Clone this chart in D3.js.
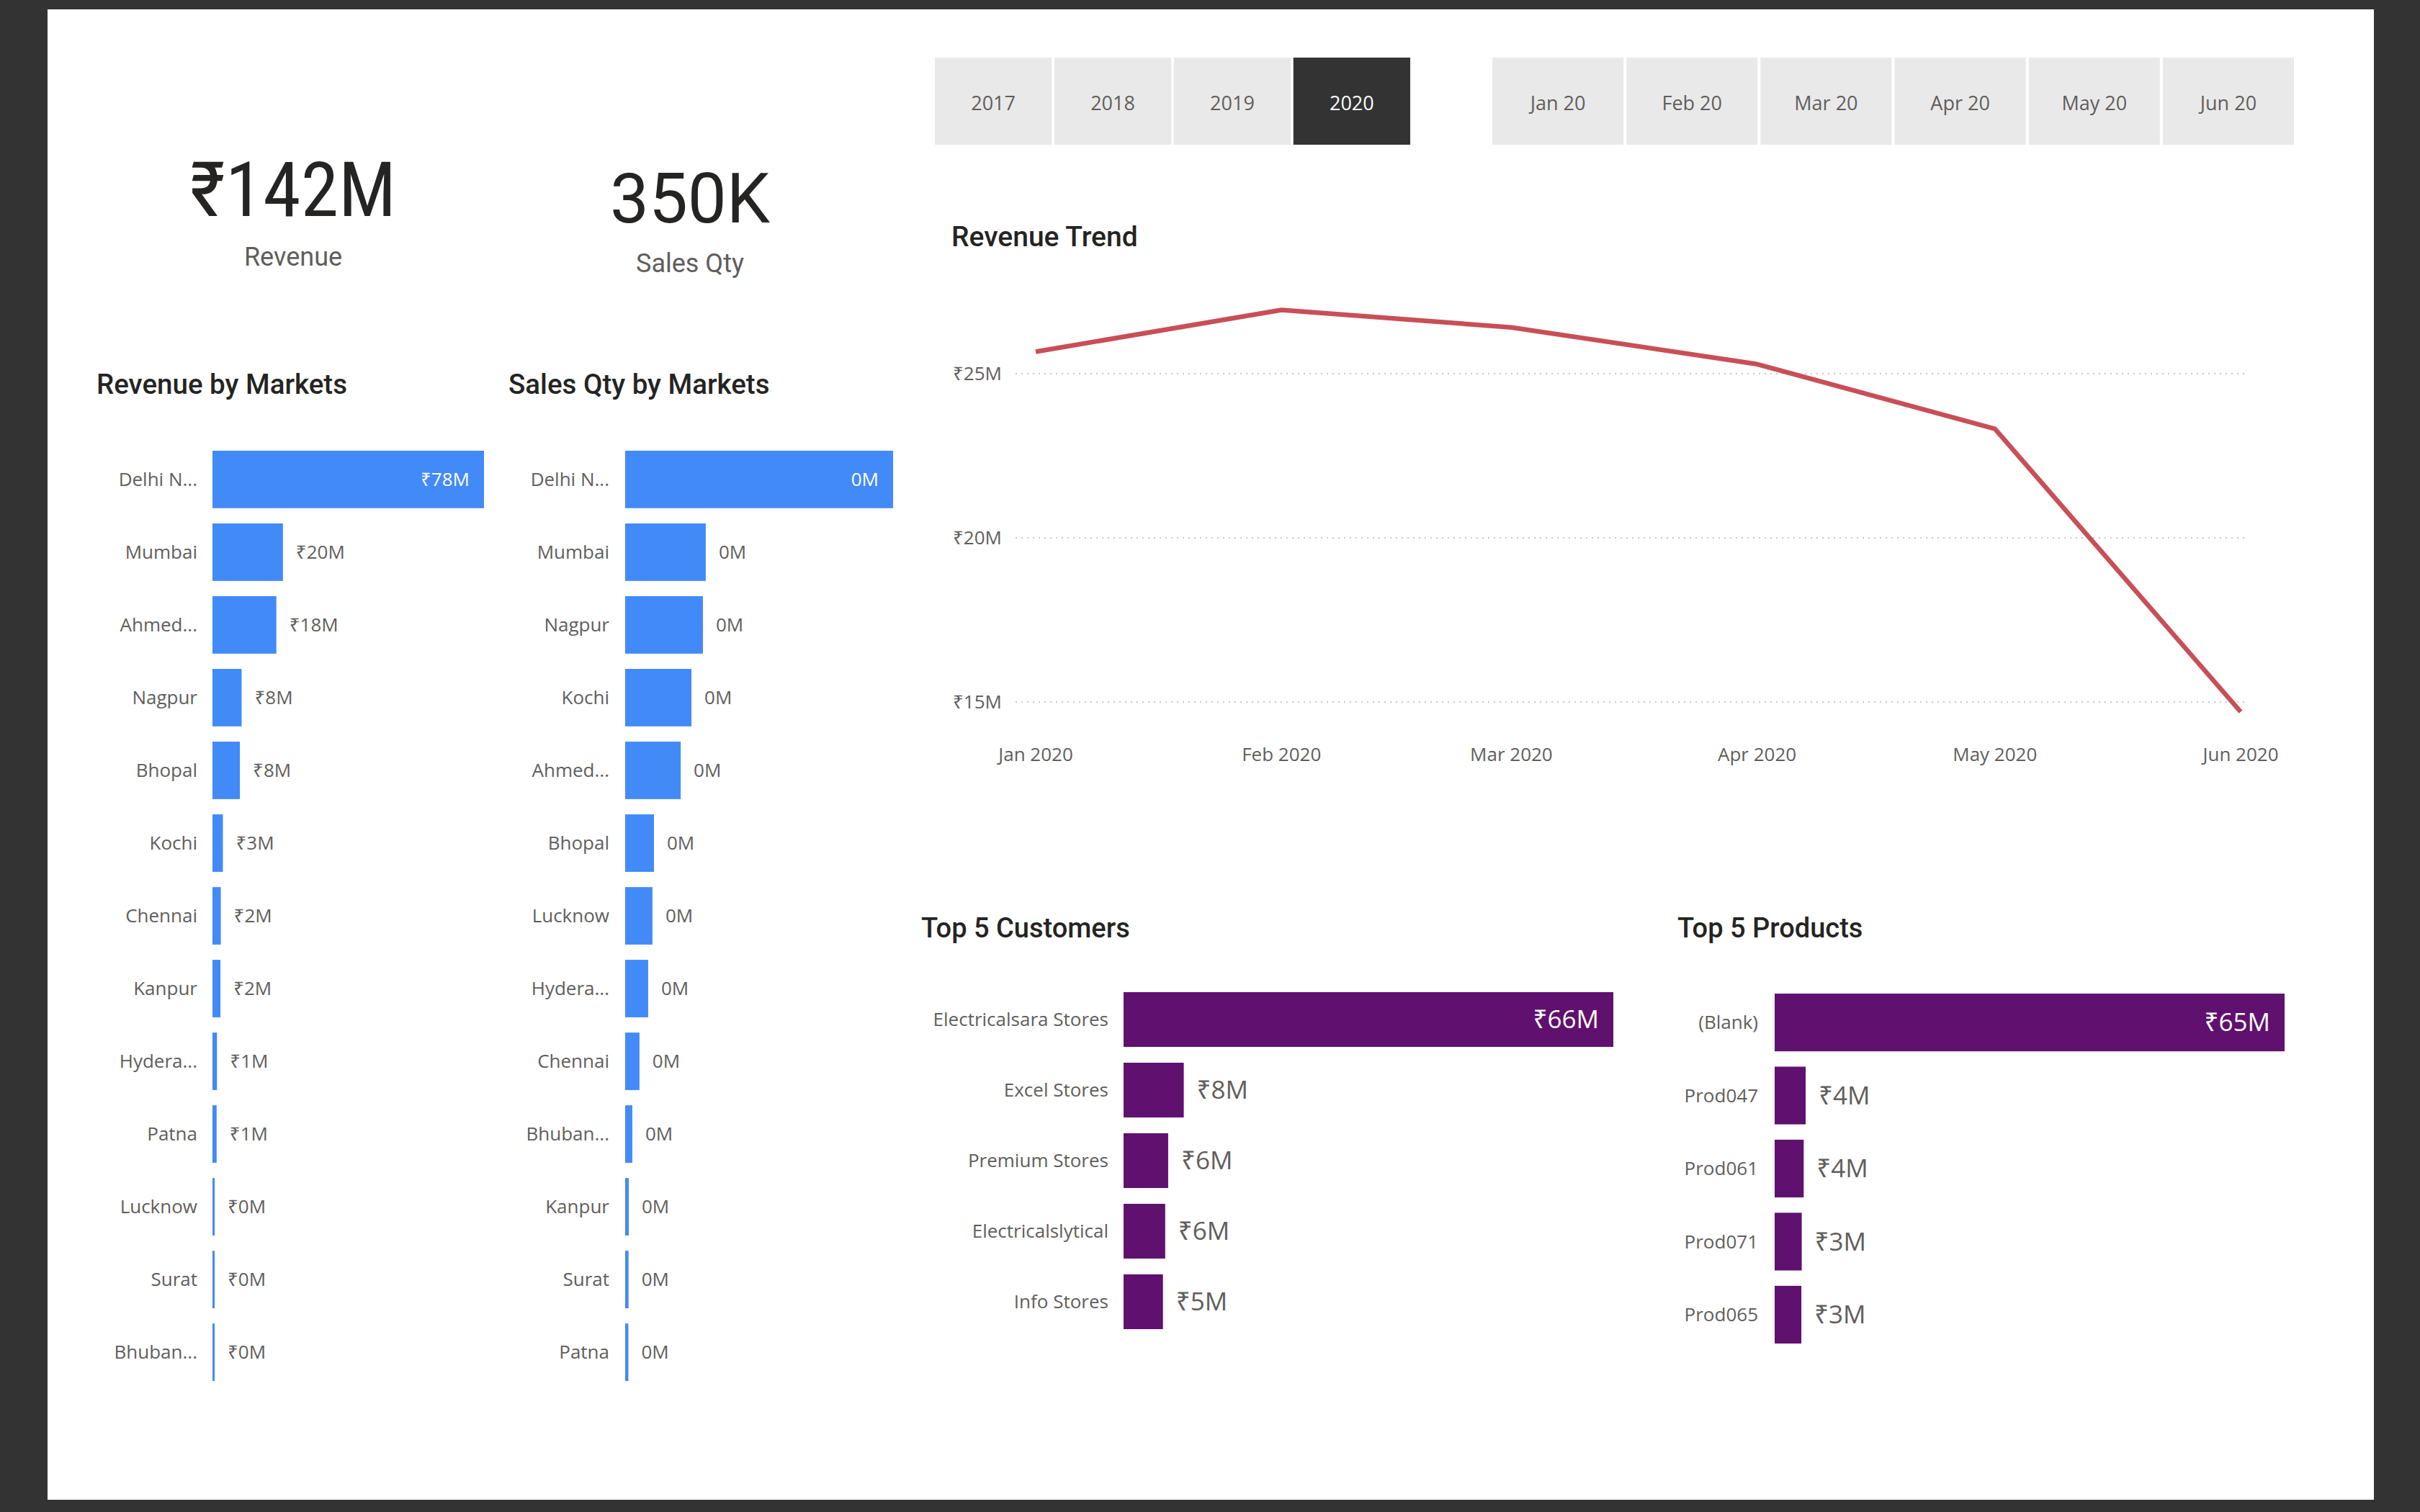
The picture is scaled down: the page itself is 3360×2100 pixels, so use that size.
<!DOCTYPE html>
<html>
<head>
<meta charset="utf-8">
<style>
body { margin: 0; background: #333333; }
svg { display: block; }
.din { font-family: "Liberation Sans Narrow", "Roboto Condensed", "DejaVu Sans Condensed", Roboto, sans-serif; }
.rob { font-family: Roboto, "Noto Sans", sans-serif; }
.ttl { font-family: Roboto, "Noto Sans", sans-serif; font-weight: 500; }
.seg { font-family: "Open Sans", "Noto Sans", sans-serif; }
</style>
</head>
<body>
<svg width="3360" height="2100"></svg>
<script src="https://d3js.org/d3.v7.min.js"></script>
<script>

// slicers
var years = ["2017", "2018", "2019", "2020"];
var selectedYear = "2020";
var monthButtons = ["Jan 20", "Feb 20", "Mar 20", "Apr 20", "May 20", "Jun 20"];

// kpis
var kpiRevenue = "₹142M";
var kpiQty = "350K";

// revenue by markets (in millions)
var revMarkets = ["Delhi N...", "Mumbai", "Ahmed...", "Nagpur", "Bhopal", "Kochi", "Chennai", "Kanpur", "Hydera...", "Patna", "Lucknow", "Surat", "Bhuban..."];
var revValues = [78.2, 20.3, 18.4, 8.4, 7.9, 3.0, 2.4, 2.3, 1.3, 1.2, 0.45, 0.45, 0.45];

// sales qty by markets (units)
var qtyMarkets = ["Delhi N...", "Mumbai", "Nagpur", "Kochi", "Ahmed...", "Bhopal", "Lucknow", "Hydera...", "Chennai", "Bhuban...", "Kanpur", "Surat", "Patna"];
var qtyValues = [142300, 42800, 41300, 35200, 29500, 15300, 14500, 12200, 7600, 3800, 1900, 1800, 1700];

// revenue trend (in millions), one point per month start
var trendMonths = ["2020-01-01", "2020-02-01", "2020-03-01", "2020-04-01", "2020-05-01", "2020-06-01"];
var trendValues = [25.67, 26.94, 26.41, 25.29, 23.32, 14.70];
var trendTicks = [15, 20, 25];

// top 5
var customers = ["Electricalsara Stores", "Excel Stores", "Premium Stores", "Electricalslytical", "Info Stores"];
var customerValues = [65.9, 8.1, 6.0, 5.6, 5.3];
var products = ["(Blank)", "Prod047", "Prod061", "Prod071", "Prod065"];
var productValues = [65.0, 3.95, 3.7, 3.45, 3.4];

var svg = d3.select("svg");
var blue = "#428af7", purple = "#60106f", grey = "#605e5c";

// page
svg.append("rect").attr("x", 66).attr("y", 13).attr("width", 3230).attr("height", 2070).attr("fill", "#fff");

// ---- slicers
function slicer(items, x0, x1, selected) {
  var xb = d3.scaleBand().domain(items).range([x0, x1]).paddingInner(0.022);
  var g = svg.append("g").selectAll("g").data(items).enter().append("g");
  g.append("rect")
      .attr("x", function(d) { return xb(d); })
      .attr("y", 80)
      .attr("width", xb.bandwidth())
      .attr("height", 121)
      .attr("fill", function(d) { return d == selected ? "#333333" : "#e9e9e9"; });
  g.append("text")
      .attr("class", "seg")
      .attr("x", function(d) { return xb(d) + xb.bandwidth() / 2; })
      .attr("y", 144)
      .attr("dy", "0.35em")
      .attr("text-anchor", "middle")
      .attr("font-size", 27)
      .attr("fill", function(d) { return d == selected ? "#fff" : grey; })
      .text(function(d) { return d; });
}
slicer(years, 1298, 1958, selectedYear);
slicer(monthButtons, 2072, 3185, null);

// ---- kpi cards
function kpi(value, label, cx, vy, vsize, vclass, ly) {
  svg.append("text").attr("class", vclass)
      .attr("x", cx).attr("y", vy).attr("text-anchor", "middle")
      .attr("font-size", vsize).attr("fill", "#252423").text(value);
  svg.append("text").attr("class", "rob")
      .attr("x", cx).attr("y", ly).attr("text-anchor", "middle")
      .attr("font-size", 36).attr("fill", grey).text(label);
}
kpi(kpiRevenue, "Revenue", 407, 300, 106, "din", 369);
kpi(kpiQty, "Sales Qty", 958, 309, 96, "rob", 378);

function title(t, x, y, size) {
  svg.append("text").attr("class", "ttl")
      .attr("x", x).attr("y", y)
      .attr("font-size", size)
      .attr("fill", "#252423").text(t);
}

// ---- horizontal bar chart helper
function barChart(opts) {
  var y = d3.scaleBand().domain(opts.cats).range(opts.yRange).paddingInner(opts.pad);
  var x = d3.scaleLinear().domain([0, d3.max(opts.values)]).range([opts.x0, opts.x0 + opts.w]);
  var rows = opts.cats.map(function(c, i) { return { cat: c, v: opts.values[i] }; });
  var max = d3.max(opts.values);

  var g = svg.append("g");
  var row = g.selectAll("g").data(rows).enter().append("g");

  row.append("rect")
      .attr("x", x(0))
      .attr("y", function(d) { return y(d.cat); })
      .attr("width", function(d) { return Math.max(x(d.v) - x(0), 3); })
      .attr("height", y.bandwidth())
      .attr("fill", opts.color);

  row.append("text")
      .attr("class", "seg")
      .attr("x", opts.labelX)
      .attr("y", function(d) { return y(d.cat) + y.bandwidth() / 2; })
      .attr("dy", "0.35em")
      .attr("text-anchor", "end")
      .attr("font-size", opts.catSize)
      .attr("fill", grey)
      .text(function(d) { return d.cat; });

  row.append("text")
      .attr("class", "seg")
      .attr("x", function(d) {
        var end = x(0) + Math.max(x(d.v) - x(0), 3);
        return d.v > max * 0.5 ? end - 20 : end + 18;
      })
      .attr("y", function(d) { return y(d.cat) + y.bandwidth() / 2; })
      .attr("dy", "0.35em")
      .attr("text-anchor", function(d) { return d.v > max * 0.5 ? "end" : "start"; })
      .attr("font-size", opts.valSize)
      .attr("fill", function(d) { return d.v > max * 0.5 ? "#fff" : grey; })
      .text(function(d) { return opts.fmt(d.v); });
}

var fmtRev = function(v) { return "₹" + d3.format(".0f")(v) + "M"; };
var fmtQty = function(v) { return d3.format(".0f")(v / 1e6) + "M"; };

title("Revenue by Markets", 134, 547, 38.5);
barChart({ cats: revMarkets, values: revValues, yRange: [626, 1918], pad: 0.21,
  x0: 295, w: 377, color: blue, labelX: 274, catSize: 26, valSize: 26, fmt: fmtRev });

title("Sales Qty by Markets", 706, 547, 38.5);
barChart({ cats: qtyMarkets, values: qtyValues, yRange: [626, 1918], pad: 0.21,
  x0: 868, w: 372, color: blue, labelX: 846, catSize: 26, valSize: 26, fmt: fmtQty });

title("Top 5 Customers", 1279, 1302, 38);
barChart({ cats: customers, values: customerValues, yRange: [1378, 1846], pad: 0.224,
  x0: 1560, w: 680, color: purple, labelX: 1539, catSize: 26, valSize: 35, fmt: fmtRev });

title("Top 5 Products", 2329, 1302, 38);
barChart({ cats: products, values: productValues, yRange: [1380, 1866], pad: 0.21,
  x0: 2464, w: 708, color: purple, labelX: 2441, catSize: 26, valSize: 35, fmt: fmtRev });

// ---- revenue trend line
title("Revenue Trend", 1321, 342, 39);

var parse = d3.timeParse("%Y-%m-%d");
var dates = trendMonths.map(parse);
var lx = d3.scaleTime().domain(d3.extent(dates)).range([1438, 3111]);
var ly = d3.scaleLinear().domain([15, 25]).range([975, 519]);

var grid = svg.append("g");
grid.selectAll("line").data(trendTicks).enter().append("line")
    .attr("x1", 1410).attr("x2", 3122)
    .attr("y1", function(d) { return ly(d); })
    .attr("y2", function(d) { return ly(d); })
    .attr("stroke", "#c8c8c8")
    .attr("stroke-width", 2)
    .attr("stroke-dasharray", "2,6");
grid.selectAll("text").data(trendTicks).enter().append("text")
    .attr("class", "seg")
    .attr("x", 1391)
    .attr("y", function(d) { return ly(d); })
    .attr("dy", "0.35em")
    .attr("text-anchor", "end")
    .attr("font-size", 26)
    .attr("fill", grey)
    .text(function(d) { return "₹" + d + "M"; });

var fmtMonth = d3.timeFormat("%b %Y");
svg.append("g").selectAll("text").data(dates).enter().append("text")
    .attr("class", "seg")
    .attr("x", function(d) { return lx(d); })
    .attr("y", 1048)
    .attr("dy", "0.35em")
    .attr("text-anchor", "middle")
    .attr("font-size", 26)
    .attr("fill", grey)
    .text(function(d) { return fmtMonth(d); });

var line = d3.line()
    .x(function(d, i) { return lx(dates[i]); })
    .y(function(d) { return ly(d); });

svg.append("path")
    .datum(trendValues)
    .attr("d", line)
    .attr("fill", "none")
    .attr("stroke", "#c84f57")
    .attr("stroke-width", 6.5)
    .attr("stroke-linejoin", "round");

</script>
</body>
</html>
